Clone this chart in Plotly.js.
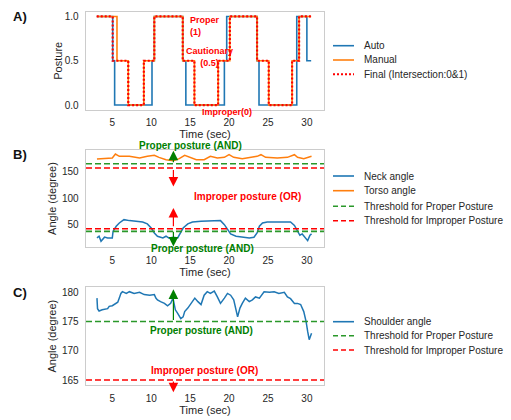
<!DOCTYPE html>
<html>
<head>
<meta charset="utf-8">
<script src="https://cdn.plot.ly/plotly-3.0.1.min.js"></script>
<style>html,body{margin:0;padding:0;background:#fff;}#chart{width:511px;height:420px;}</style>
</head>
<body>
<div id="chart"></div>
<script>
// ---------- Panel A: posture classification ----------
const autoT   = [3.0, 5.05, 5.3, 10.1, 10.4, 14.05, 14.45, 19.4, 19.7, 23.6, 23.85, 28.7, 30.0, 30.55];
const autoV   = [1, 0.5, 0, 0.5, 1, 0.5, 0, 0.5, 1, 0.5, 0, 1, 0.5, 0.5];
const manualT = [3.0, 5.6, 7.05, 9.05, 10.4, 14.05, 15.55, 18.6, 20.1, 23.6, 25.1, 28.1, 29.0, 30.55];
const manualV = [1, 0.5, 0, 0.5, 1, 0.5, 0, 0.5, 1, 0.5, 0, 0.5, 1, 1];
const finalT  = [3.0, 5.05, 7.05, 9.05, 10.4, 14.05, 15.55, 18.6, 20.1, 23.6, 25.1, 28.1, 29.0, 30.55];
const finalV  = [1, 0.5, 0, 0.5, 1, 0.5, 0, 0.5, 1, 0.5, 0, 0.5, 1, 1];

// ---------- Panel B: neck & torso angles ----------
const neckT = [3.03, 3.3, 3.55, 4.0, 4.4, 5.0, 5.1, 5.5, 5.9, 6.5, 7.2, 8.0, 8.9, 9.5, 10.0, 10.4, 10.8, 11.5, 11.9, 12.3, 12.85, 13.4, 13.8, 14.1, 14.7, 15.3, 16.4, 17.2, 18.1, 18.9, 19.4, 19.8, 20.2, 20.9, 21.7, 22.6, 23.2, 23.6, 23.9, 24.3, 24.9, 25.8, 26.6, 27.9, 28.4, 28.8, 29.1, 29.4, 29.7, 30.1, 30.4, 30.6];
const neckV = [25.7, 28.9, 19.5, 27.2, 25.5, 25.7, 38.2, 47.6, 53.8, 60.0, 58.2, 56.9, 55.6, 52.0, 44.3, 35.0, 28.9, 25.7, 28.9, 25.4, 27.0, 25.7, 35.0, 44.3, 52.0, 55.6, 56.9, 57.5, 56.9, 58.2, 50.6, 41.3, 33.2, 28.9, 27.0, 25.7, 27.0, 35.0, 47.6, 53.8, 55.6, 55.6, 56.9, 55.6, 49.3, 39.4, 30.7, 33.2, 27.0, 20.7, 30.7, 33.2];
const torsoT = [3.03, 4.2, 5.0, 5.4, 5.9, 7.2, 8.5, 9.5, 10.4, 11.0, 11.9, 12.85, 13.6, 14.3, 14.9, 15.8, 16.8, 17.6, 18.5, 19.4, 20.0, 20.6, 21.7, 22.8, 23.6, 24.1, 24.7, 26.2, 27.5, 28.4, 28.8, 29.6, 30.1, 30.6];
const torsoV = [173.8, 174.4, 175.7, 183.2, 178.8, 178.8, 175.7, 178.8, 180.6, 176.9, 172.5, 170.6, 174.4, 180.6, 176.9, 172.5, 172.5, 178.8, 175.7, 176.9, 181.9, 176.9, 174.4, 176.9, 178.8, 181.9, 176.9, 175.7, 176.9, 181.9, 176.9, 174.4, 176.9, 178.8];
const thrB_proper   = [165, 38];
const thrB_improper = [157, 43];

// ---------- Panel C: shoulder angle ----------
const shoulderT = [3.03, 3.1, 3.3, 3.7, 4.4, 4.6, 5.0, 5.5, 5.7, 5.9, 6.1, 6.3, 6.8, 7.2, 7.8, 8.5, 9.1, 9.8, 10.4, 10.6, 10.8, 11.2, 11.7, 12.1, 12.5, 12.8, 13.1, 13.4, 13.8, 14.1, 14.3, 14.7, 15.1, 15.6, 16.0, 16.4, 16.8, 17.2, 17.6, 18.1, 18.5, 18.9, 19.4, 19.8, 20.2, 20.6, 21.1, 21.4, 21.7, 22.1, 22.6, 23.0, 23.4, 23.9, 24.5, 25.2, 25.8, 26.4, 27.1, 27.5, 27.9, 28.4, 28.8, 29.2, 29.6, 29.9, 30.1, 30.3, 30.6];
const shoulderV = [179.0, 177.2, 176.8, 177.0, 177.2, 177.6, 177.7, 178.1, 178.3, 179.0, 179.8, 180.1, 179.8, 180.1, 179.8, 180.0, 179.6, 179.5, 179.6, 179.0, 178.7, 178.4, 178.1, 177.7, 178.1, 179.0, 177.0, 176.4, 175.5, 175.8, 176.7, 177.3, 178.1, 179.0, 178.4, 177.9, 179.5, 180.1, 179.8, 180.2, 179.2, 178.1, 179.0, 179.8, 179.5, 178.7, 175.8, 177.3, 178.1, 179.0, 178.4, 178.7, 179.2, 179.0, 180.1, 180.0, 180.1, 179.8, 180.0, 179.2, 178.9, 178.1, 178.1, 177.9, 176.7, 175.0, 173.3, 171.9, 173.0];
const thrC_proper   = [175];
const thrC_improper = [165];

// ---------- labels ----------
const xTicks = [5, 10, 15, 20, 25, 30];
const legendA = ["Auto", "Manual", "Final (Intersection:0&1)"];
const legendB = ["Neck angle", "Torso angle", "Threshold for Proper Posture", "Threshold for Improper Posture"];
const legendC = ["Shoulder angle", "Threshold for Proper Posture", "Threshold for Improper Posture"];

const BLUE = "#1f77b4", ORANGE = "#ff7f0e", RED = "#ff0000", GREEN = "#008000", GREENL = "#2a982a";
const TXT = "#262626", FRAME = "#cccccc";
const W = 511, H = 420;
const px = v => v / W, py = v => 1 - v / H;

const traces = [
  {x: autoT, y: autoV, xaxis: "x", yaxis: "y", mode: "lines", line: {shape: "hv", color: BLUE, width: 1.6}},
  {x: manualT, y: manualV, xaxis: "x", yaxis: "y", mode: "lines", line: {shape: "hv", color: ORANGE, width: 1.6}},
  {x: finalT, y: finalV, xaxis: "x", yaxis: "y", mode: "lines", line: {shape: "hv", color: RED, width: 2.2, dash: "2px,2px"}},
  {x: neckT, y: neckV, xaxis: "x2", yaxis: "y2", mode: "lines", line: {color: BLUE, width: 1.5}},
  {x: torsoT, y: torsoV, xaxis: "x2", yaxis: "y2", mode: "lines", line: {color: ORANGE, width: 1.5}},
  {x: shoulderT, y: shoulderV, xaxis: "x3", yaxis: "y3", mode: "lines", line: {color: BLUE, width: 1.5}}
].map(t => Object.assign(t, {showlegend: false, hoverinfo: "skip"}));

const shapes = [];
function hline(axis, val, color) {
  shapes.push({type: "line", xref: axis + " domain", yref: "y" + axis.slice(1),
    x0: 0, x1: 1, y0: val, y1: val, line: {color: color, width: 1.6, dash: "6px,3px"}});
}
thrB_proper.forEach(v => hline("x2", v, GREENL));
thrB_improper.forEach(v => hline("x2", v, RED));
thrC_proper.forEach(v => hline("x3", v, GREENL));
thrC_improper.forEach(v => hline("x3", v, RED));

const annotations = [];
const FAM = "Liberation Sans, Arial, sans-serif";
// Manual legends
function legend(items, styles, ys) {
  items.forEach((name, i) => {
    const s = styles[i];
    shapes.push({type: "line", xref: "paper", yref: "paper", x0: px(333), x1: px(354), y0: py(ys[i]), y1: py(ys[i]),
      line: {color: s.color, width: s.width || 1.6, dash: s.dash || "solid"}});
    annotations.push({xref: "paper", yref: "paper", x: px(362), y: py(ys[i]), xanchor: "left", yanchor: "middle",
      text: name, showarrow: false, font: {size: 10, color: TXT, family: FAM}});
  });
}
legend(legendA, [{color: BLUE}, {color: ORANGE}, {color: RED, dash: "2px,2px", width: 2}], [45.7, 60, 74.3]);
legend(legendB, [{color: BLUE}, {color: ORANGE}, {color: GREENL, dash: "5px,3px"}, {color: RED, dash: "5px,3px"}], [176, 190.7, 206.3, 220.7]);
legend(legendC, [{color: BLUE}, {color: GREENL, dash: "5px,3px"}, {color: RED, dash: "5px,3px"}], [321.7, 335.7, 350]);

// Panel labels
[["A)", 16.5], ["B)", 154], ["C)", 292.7]].forEach(([t, y]) => {
  annotations.push({xref: "paper", yref: "paper", x: px(11), y: py(y), xanchor: "left", yanchor: "middle",
    text: "<b>" + t + "</b>", showarrow: false, font: {size: 13, color: "#111", family: FAM}});
});

function txt(xr, yr, x, y, text, color, size, xanchor, align) {
  annotations.push({xref: xr, yref: yr, x: x, y: y, text: "<b>" + text + "</b>", showarrow: false,
    xanchor: xanchor || "center", yanchor: "middle", align: align || "center", borderpad: 0,
    font: {size: size, color: color, family: FAM}});
}
txt("x", "y", 14.86, 0.89, "Proper<br>(1)", RED, 9, "left", "left");
txt("x", "y", 17.44, 0.54, "Cautionary<br>(0.5)", RED, 9);
// texts that sit outside their axis ranges are placed on the page
txt("paper", "paper", px(227), py(112.2), "Improper(0)", RED, 9);
txt("paper", "paper", px(190.8), py(145.5), "Proper posture (AND)", GREEN, 10);
txt("x2", "y2", 22.32, 103, "Improper posture (OR)", RED, 10);
txt("paper", "paper", px(202.5), py(248.3), "Proper posture (AND)", GREEN, 10);
txt("x3", "y3", 16.5, 173.4, "Proper posture (AND)", GREEN, 10);
txt("x3", "y3", 16.8, 166.64, "Improper posture (OR)", RED, 10);

function arrow(xr, yr, x, y0, y1, color) {
  annotations.push({xref: xr, yref: yr, axref: xr, ayref: yr, x: x, y: y1, ax: x, ay: y0, text: "",
    showarrow: true, arrowhead: 2, arrowsize: 1.6, arrowwidth: 1.2, arrowcolor: color, standoff: 0, startstandoff: 0});
}
const arrowT = 12.85;
arrow("x2", "y2", arrowT, 165, 189.5, GREEN);
arrow("x2", "y2", arrowT, 156, 122, RED);
arrow("x2", "y2", arrowT, 45, 82, RED);
arrow("x2", "y2", arrowT, 40, 9.5, GREEN);
arrow("x3", "y3", arrowT, 175, 180.5, GREEN);
arrow("x3", "y3", arrowT, 165, 162.9, RED);

const FONT = {family: FAM, color: TXT};
function xax(anchor, sd) {
  return {domain: [px(86), px(324)], range: [1.62, 32.2], anchor: anchor, tickvals: xTicks,
    showline: true, mirror: true, linecolor: FRAME, linewidth: 1.3, ticks: "", showgrid: false, zeroline: false,
    tickfont: {size: 10, color: TXT}, ticklabelstandoff: sd,
    title: {text: "Time (sec)", font: {size: 11, color: TXT}, standoff: 0}};
}
function yax(anchor, dom, range, tv, tt) {
  return {domain: dom, range: range, anchor: anchor, tickvals: tv, ticktext: tt,
    showline: true, mirror: true, linecolor: FRAME, linewidth: 1.3, ticks: "", showgrid: false, zeroline: false,
    tickfont: {size: 10, color: TXT}, ticklabelstandoff: 4};
}
const layout = {
  width: W, height: H, margin: {l: 0, r: 0, t: 0, b: 0}, paper_bgcolor: "#fff", plot_bgcolor: "#fff",
  font: FONT, showlegend: false,
  xaxis: xax("y", 3), xaxis2: xax("y2", 4), xaxis3: xax("y3", 4),
  yaxis: Object.assign(yax("x", [py(109.5), py(12)], [-0.05, 1.05], [0, 0.5, 1], ["0.0", "0.5", "1.0"]),
    {title: {text: "Posture", font: {size: 11, color: TXT}, standoff: 0}}),
  yaxis2: Object.assign(yax("x2", [py(247), py(150)], [8.7, 190.7], [50, 100, 150], ["50", "100", "150"]),
    {title: {text: "Angle (degree)", font: {size: 11, color: TXT}, standoff: 3}}),
  yaxis3: Object.assign(yax("x3", [py(385), py(287.3)], [164.15, 180.85], [165, 170, 175, 180], ["165", "170", "175", "180"]),
    {title: {text: "Angle (degree)", font: {size: 11, color: TXT}, standoff: 3}}),
  shapes: shapes, annotations: annotations
};
Plotly.newPlot("chart", traces, layout, {staticPlot: true, displayModeBar: false});
</script>
</body>
</html>
